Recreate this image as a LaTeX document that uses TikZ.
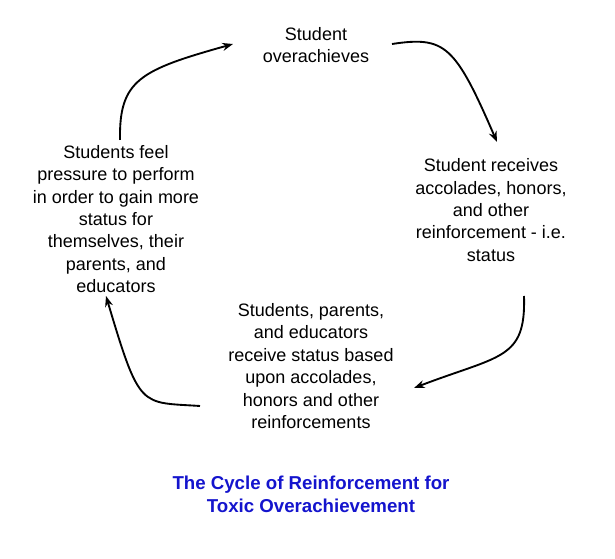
\documentclass[tikz,border=0pt]{standalone}
\usepackage{fontspec}
\setmainfont{Liberation Sans}
\usetikzlibrary{arrows.meta}
\definecolor{ttlblue}{RGB}{20,20,205}
\begin{document}
\begin{tikzpicture}[x=0.75pt,y=-0.75pt,
  txt/.style={align=center,font=\fontsize{13.5}{16.8}\selectfont,inner sep=0pt},
  ttl/.style={align=center,font=\fontsize{14}{17.3}\selectfont\bfseries,text=ttlblue,inner sep=0pt},
  cyc/.style={line width=1.4pt,-{Stealth[length=8pt,width=6pt]}}]
\useasboundingbox (0,0) rectangle (615,559);
\node[txt] (top) at (316,45) {Student\\overachieves};
\node[txt] (right) at (491,210) {Student receives\\accolades, honors,\\and other\\reinforcement - i.e.\\status};
\node[txt] (left) at (116,219) {Students feel\\pressure to perform\\in order to gain more\\status for\\themselves, their\\parents, and\\educators};
\node[txt] (bottom) at (311,366) {Students, parents,\\and educators\\receive status based\\upon accolades,\\honors and other\\reinforcements};
\node[ttl] (title) at (311,494) {The Cycle of Reinforcement for\\Toxic Overachievement};
\coordinate (a1s) at (120,140);
\coordinate (a1e) at (233,44);
\coordinate (a2s) at (392,44);
\coordinate (a2e) at (497,142);
\coordinate (a3s) at (524,296);
\coordinate (a3e) at (414,388);
\coordinate (a4s) at (200,406);
\coordinate (a4e) at (106,296);
\draw[cyc] (a1s) .. controls (119,80) and (140,70) .. (a1e);
\draw[cyc] (a2s) .. controls (445,36) and (455,45) .. (a2e);
\draw[cyc] (a3s) .. controls (526,360) and (500,355) .. (a3e);
\draw[cyc] (a4s) .. controls (140,402) and (140,410) .. (a4e);
\end{tikzpicture}
\end{document}
